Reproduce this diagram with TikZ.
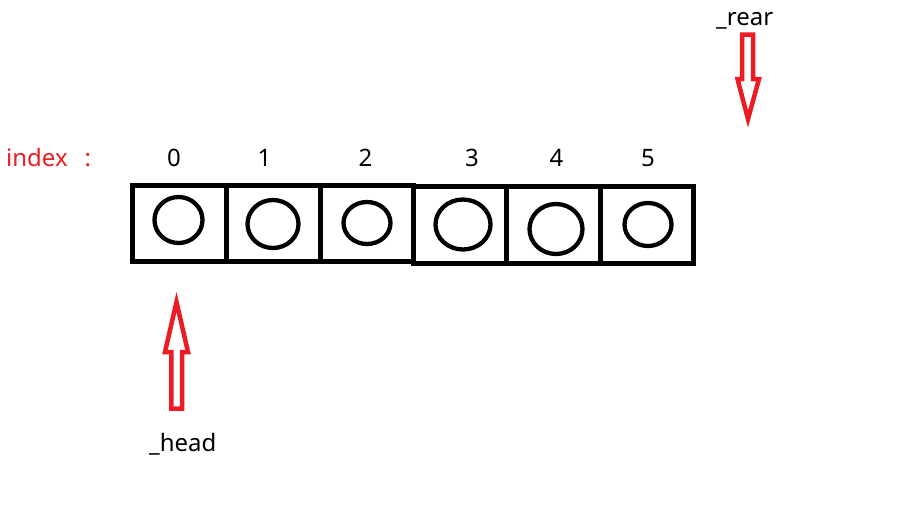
\documentclass[tikz,border=0pt]{standalone}
\usepackage{fontspec}
\setmainfont{Noto Sans}
\usetikzlibrary{shapes.geometric}
\definecolor{arrowred}{RGB}{237,28,36}
\tikzset{
  cell/.style={draw=black, line width=5pt, minimum height=76.5pt, inner sep=0pt, outer sep=0pt},
  ball/.style={draw=black, line width=4.3pt, ellipse, inner sep=0pt},
  lbl/.style={anchor=base, inner sep=0pt, font=\fontsize{24}{28}\selectfont},
  redlbl/.style={lbl, anchor=base west, text=arrowred},
  ptr/.style={draw=arrowred, line width=4.5pt, line join=miter}
}
\begin{document}
\begin{tikzpicture}[x=1pt,y=-1pt]
\useasboundingbox (0,0) rectangle (906,522);
% cells
\node[cell, minimum width=94pt] (b0) at (179,223.25) {};
\node[cell, minimum width=94pt] (b1) at (273,223.25) {};
\node[cell, minimum width=93pt] (b2) at (366.5,223.25) {};
\node[cell, minimum width=93pt, minimum height=77pt] (b3) at (459.5,225) {};
\node[cell, minimum width=94pt, minimum height=77pt] (b4) at (553,225) {};
\node[cell, minimum width=93pt, minimum height=77pt] (b5) at (646.5,225) {};
% circles
\node[ball, minimum width=48pt, minimum height=46pt] (c0) at (178.5,220) {};
\node[ball, minimum width=51pt, minimum height=48pt] (c1) at (273,224) {};
\node[ball, minimum width=47pt, minimum height=42pt] (c2) at (367,223) {};
\node[ball, minimum width=55pt, minimum height=50pt] (c3) at (463,224.5) {};
\node[ball, minimum width=53pt, minimum height=50pt] (c4) at (556,229) {};
\node[ball, minimum width=47pt, minimum height=43pt] (c5) at (648,224.5) {};
% labels
\node[redlbl] (idx) at (6,166.5) {index\kern17pt:};
\node[lbl] (n0) at (174,166.5) {0};
\node[lbl] (n1) at (264.5,166.5) {1};
\node[lbl] (n2) at (365.5,166.5) {2};
\node[lbl] (n3) at (472,166.5) {3};
\node[lbl] (n4) at (556.5,166.5) {4};
\node[lbl] (n5) at (648,166.5) {5};
\node[lbl, anchor=base west] (head) at (149,451) {\_head};
\node[lbl, anchor=base west] (rear) at (716,26) {\_rear};
% pointer arrows
\draw[ptr] (176.5,302) -- (165,352) -- (171.3,352) -- (171.3,408.7) -- (182,408.7) -- (182,352) -- (188,352) -- cycle;
\draw[ptr] (742,34.5) -- (753,34.5) -- (753,79) -- (759,79) -- (748,119) -- (737.5,79) -- (742,79) -- cycle;
\end{tikzpicture}
\end{document}
